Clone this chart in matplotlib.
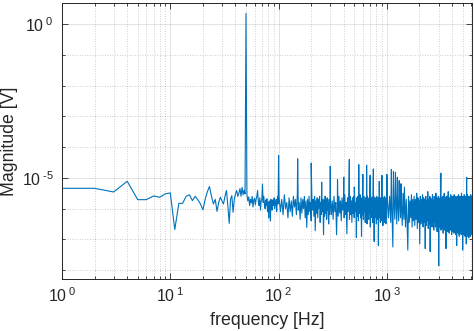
import numpy as np
import matplotlib
matplotlib.use("Agg")
import matplotlib.pyplot as plt
from matplotlib.ticker import FixedLocator, LogLocator, NullFormatter, FuncFormatter

plt.rcParams['font.family'] = ['Liberation Sans', 'DejaVu Sans']
plt.rcParams['mathtext.fontset'] = 'custom'
plt.rcParams['mathtext.rm'] = 'Liberation Sans'
plt.rcParams['mathtext.it'] = 'Liberation Sans:italic'
plt.rcParams['mathtext.bf'] = 'Liberation Sans:bold'
plt.rcParams['axes.unicode_minus'] = False

# ---------------- data (log10 of magnitude in V) ----------------
# 1 Hz bins, 1..99 Hz
low_freqs = list(range(1, 100))
low_vals = [
    -5.34, -5.34, -5.46, -5.11, -5.71, -5.71, -5.59, -5.63, -5.52, -5.49,
    -6.68, -5.83, -5.83, -5.60, -5.55, -5.74, -5.60, -5.72, -5.85, -6.04,
    -5.70, -5.45, -5.28, -5.60, -5.85, -5.70, -6.09, -5.80, -5.63, -5.75,
    -5.85, -5.60, -5.41, -5.90, -6.48, -5.70, -5.58, -6.12, -5.70, -5.52,
    -5.41, -5.60, -5.50, -5.35, -5.60, -5.31, -5.55, -5.40, -5.52, 0.35,
    -5.55, -5.75, -5.62, -5.90, -5.70, -5.82, -5.60, -5.95, -5.72, -5.66,
    -5.88, -5.70, -5.60, -5.41, -5.78, -5.90, -5.65, -6.05, -5.75, -5.70,
    -5.20, -5.80, -5.60, -5.85, -6.00, -5.72, -5.90, -5.68, -6.10, -5.80,
    -6.30, -5.75, -5.90, -6.40, -5.70, -5.85, -6.05, -5.72, -5.90, -5.80,
    -5.65, -6.00, -5.78, -5.90, -5.70, -6.10, -5.80, -5.60, -5.85,
]

# 101..299 Hz, every 3 Hz
mid1_start, mid1_step = 101, 3
mid1_vals = [
    -5.60, -6.10, -5.70, -6.20, -5.55, -6.00, -5.80, -6.30, -5.65, -6.10,
    -5.75, -6.25, -5.60, -5.95, -5.70, -6.20, -5.50, -6.05, -5.80, -6.35,
    -5.65, -6.15, -5.70, -6.00, -5.60, -6.30, -5.75, -6.61, -5.70, -6.20,
    -5.60, -6.10, -5.80, -6.40, -5.65, -6.05, -5.70, -6.25, -5.60, -6.72,
    -5.75, -6.15, -5.65, -6.30, -5.70, -6.00, -5.60, -6.45, -5.80, -6.20,
    -5.65, -6.10, -5.70, -6.85, -5.75, -6.25, -5.60, -6.15, -5.70, -6.35,
    -5.65, -6.05, -5.80, -6.50, -5.70, -6.20, -5.60,
]

# 301..997 Hz, every 6 Hz
mid2_start, mid2_step = 301, 6
mid2_vals = [
    -5.65, -6.20, -5.75, -6.35, -5.60, -6.10, -5.80, -6.85, -5.70, -6.25,
    -5.60, -6.15, -5.75, -6.40, -5.65, -6.05, -5.70, -6.30, -5.55, -6.20,
    -5.80, -6.82, -5.65, -6.10, -5.70, -6.35, -5.60, -6.20, -5.75, -6.45,
    -5.65, -6.15, -5.60, -6.30, -5.70, -6.10, -5.80, -6.94, -5.65, -6.25,
    -5.60, -6.40, -5.70, -6.15, -5.55, -6.30, -5.75, -6.90, -5.65, -6.20,
    -5.70, -6.35, -5.60, -6.10, -5.75, -6.45, -5.65, -6.25, -5.70, -6.50,
    -5.60, -6.20, -5.80, -6.35, -5.65, -6.15, -5.70, -6.60, -5.60, -6.30,
    -5.75, -6.20, -5.65, -6.45, -5.70, -6.10, -5.60, -7.07, -5.75, -6.30,
    -5.65, -6.25, -5.70, -6.50, -5.60, -6.20, -5.75, -6.35, -5.65, -7.20,
    -5.70, -6.30, -5.60, -6.15, -5.75, -6.45, -5.65, -6.25, -5.70, -6.40,
    -5.60, -6.30, -5.75, -6.55, -5.65, -6.20, -5.70, -6.35, -5.60, -6.45,
    -5.75, -6.25, -5.65, -6.50, -5.70, -6.30, -5.60,
]

# 1010..6035 Hz, every 25 Hz
high_start, high_step = 1010, 25
high_vals = [
    -5.70, -6.30, -5.60, -6.45, -5.75, -7.25, -5.65, -6.35, -5.55, -6.50,
    -5.70, -6.40, -5.60, -6.30, -5.75, -6.55, -5.50, -6.35, -5.65, -6.60,
    -5.70, -6.40, -7.35, -5.60, -6.45, -5.75, -6.30, -5.55, -6.60, -5.70,
    -6.40, -5.60, -6.55, -5.70, -6.35, -5.50, -6.65, -5.65, -6.45, -5.75,
    -7.15, -5.60, -6.50, -5.70, -6.40, -5.55, -6.60, -5.65, -6.45, -5.70,
    -7.30, -5.60, -6.55, -5.75, -6.40, -5.45, -6.65, -5.70, -6.50, -5.60,
    -7.40, -5.65, -6.45, -5.70, -6.60, -5.55, -6.50, -5.75, -6.70, -5.60,
    -6.45, -5.70, -6.60, -5.50, -6.55, -5.65, -6.75, -5.70, -6.50, -5.60,
    -7.86, -5.65, -6.60, -5.70, -6.50, -5.55, -6.70, -5.65, -6.55, -5.75,
    -6.65, -5.60, -6.80, -5.70, -6.55, -5.50, -6.70, -5.65, -6.60, -5.70,
    -7.30, -5.60, -6.65, -5.75, -6.55, -5.60, -6.75, -5.45, -6.60, -5.70,
    -6.80, -5.65, -6.60, -5.70, -6.70, -5.55, -6.65, -5.75, -6.85, -5.60,
    -6.60, -5.70, -6.75, -5.60, -6.65, -5.70, -6.80, -5.55, -6.70, -5.65,
    -6.60, -5.75, -6.85, -5.60, -6.70, -5.70, -7.20, -5.65, -6.75, -5.60,
    -6.65, -5.70, -6.80, -5.55, -6.70, -5.65, -6.90, -5.75, -6.60, -5.60,
    -6.80, -5.70, -6.70, -5.60, -6.85, -5.50, -6.75, -5.65, -6.70, -5.70,
    -7.35, -5.60, -6.80, -5.70, -6.70, -5.65, -6.85, -5.55, -6.75, -5.70,
    -6.90, -5.60, -6.70, -5.75, -6.80, -5.65, -7.15, -5.60, -6.85, -5.70,
    -6.75, -5.55, -6.90, -5.65, -6.80, -5.70, -6.70, -5.60, -6.95, -5.65,
    -6.80, -5.70, -6.85, -5.60, -6.75, -5.65, -6.90, -5.55, -6.80, -5.70,
    -6.85, -5.60,
]

# harmonic lines (Hz, log10 V)
harm_freqs = [100, 150, 200, 250, 300, 350, 400, 450, 500, 550, 600, 650, 700,
              750, 850, 900, 1000, 1100, 1150, 1200, 1250, 1300, 1350, 1450,
              3150, 5450]
harm_vals = [-4.27, -4.38, -4.52, -5.14, -4.62, -5.06, -4.98, -4.40, -5.30,
             -4.57, -4.89, -4.59, -4.92, -4.71, -5.12, -4.92, -4.89, -4.73,
             -4.79, -4.82, -4.98, -5.09, -5.19, -5.30, -4.85, -4.98]

# ---------------- assemble ----------------
f = np.concatenate([
    np.array(low_freqs, float),
    mid1_start + mid1_step * np.arange(len(mid1_vals)),
    mid2_start + mid2_step * np.arange(len(mid2_vals)),
    high_start + high_step * np.arange(len(high_vals)),
    np.array(harm_freqs, float),
])
v = np.concatenate([low_vals, mid1_vals, mid2_vals, high_vals, harm_vals])
order = np.argsort(f, kind='stable')
f = f[order]
mag = 10.0 ** v[order]

# ---------------- plot ----------------
W, H = 474, 331
fig = plt.figure(figsize=(W / 100, H / 100), dpi=100)
ax = fig.add_axes([62 / W, 1 - 279.3 / H, (471.7 - 62) / W, (279.3 - 2.7) / H])

ax.plot(f, mag, color='#0072BD', lw=0.8)
ax.set_xscale('log')
ax.set_yscale('log')
ax.set_xlim(1, 6070)
ax.set_ylim(5e-9, 5)

axcol = '#262626'
ax.xaxis.set_major_locator(LogLocator(base=10, numticks=10))
ax.xaxis.set_minor_locator(LogLocator(base=10, subs=np.arange(2, 10), numticks=20))
ax.xaxis.set_minor_formatter(NullFormatter())
ax.yaxis.set_major_locator(FixedLocator([1e-5, 1e0]))
ax.yaxis.set_minor_locator(FixedLocator([10.0 ** k for k in range(-8, 1) if k not in (-5, 0)]))
ax.yaxis.set_minor_formatter(NullFormatter())


def _fmt(val, pos):
    e = int(round(np.log10(val)))
    if e < 0:
        return r'$10^{\;\text{-}%d}$' % (-e)
    return r'$10^{\;%d}$' % e


fmt = FuncFormatter(_fmt)
ax.xaxis.set_major_formatter(fmt)
ax.yaxis.set_major_formatter(fmt)

ax.grid(True, which='major', color=axcol, alpha=0.15, lw=0.6, ls='-')
ax.grid(True, which='minor', color=axcol, alpha=0.3, lw=0.6, ls=(0, (1, 2)))
ax.set_axisbelow(True)

for s in ax.spines.values():
    s.set_color(axcol)
    s.set_linewidth(0.7)
ax.tick_params(which='both', direction='in', top=True, right=True, colors=axcol,
               labelsize=11.5, width=0.6)
ax.tick_params(which='major', length=4)
ax.tick_params(which='minor', length=2.5)
ax.tick_params(axis='x', which='major', pad=5)
ax.tick_params(axis='y', which='major', pad=6)

ax.set_xlabel('frequency [Hz]', fontsize=12.8, color=axcol, labelpad=5)
ax.set_ylabel('Magnitude [V]', fontsize=12.8, color=axcol, labelpad=3)

fig.savefig('out.png', dpi=100)
